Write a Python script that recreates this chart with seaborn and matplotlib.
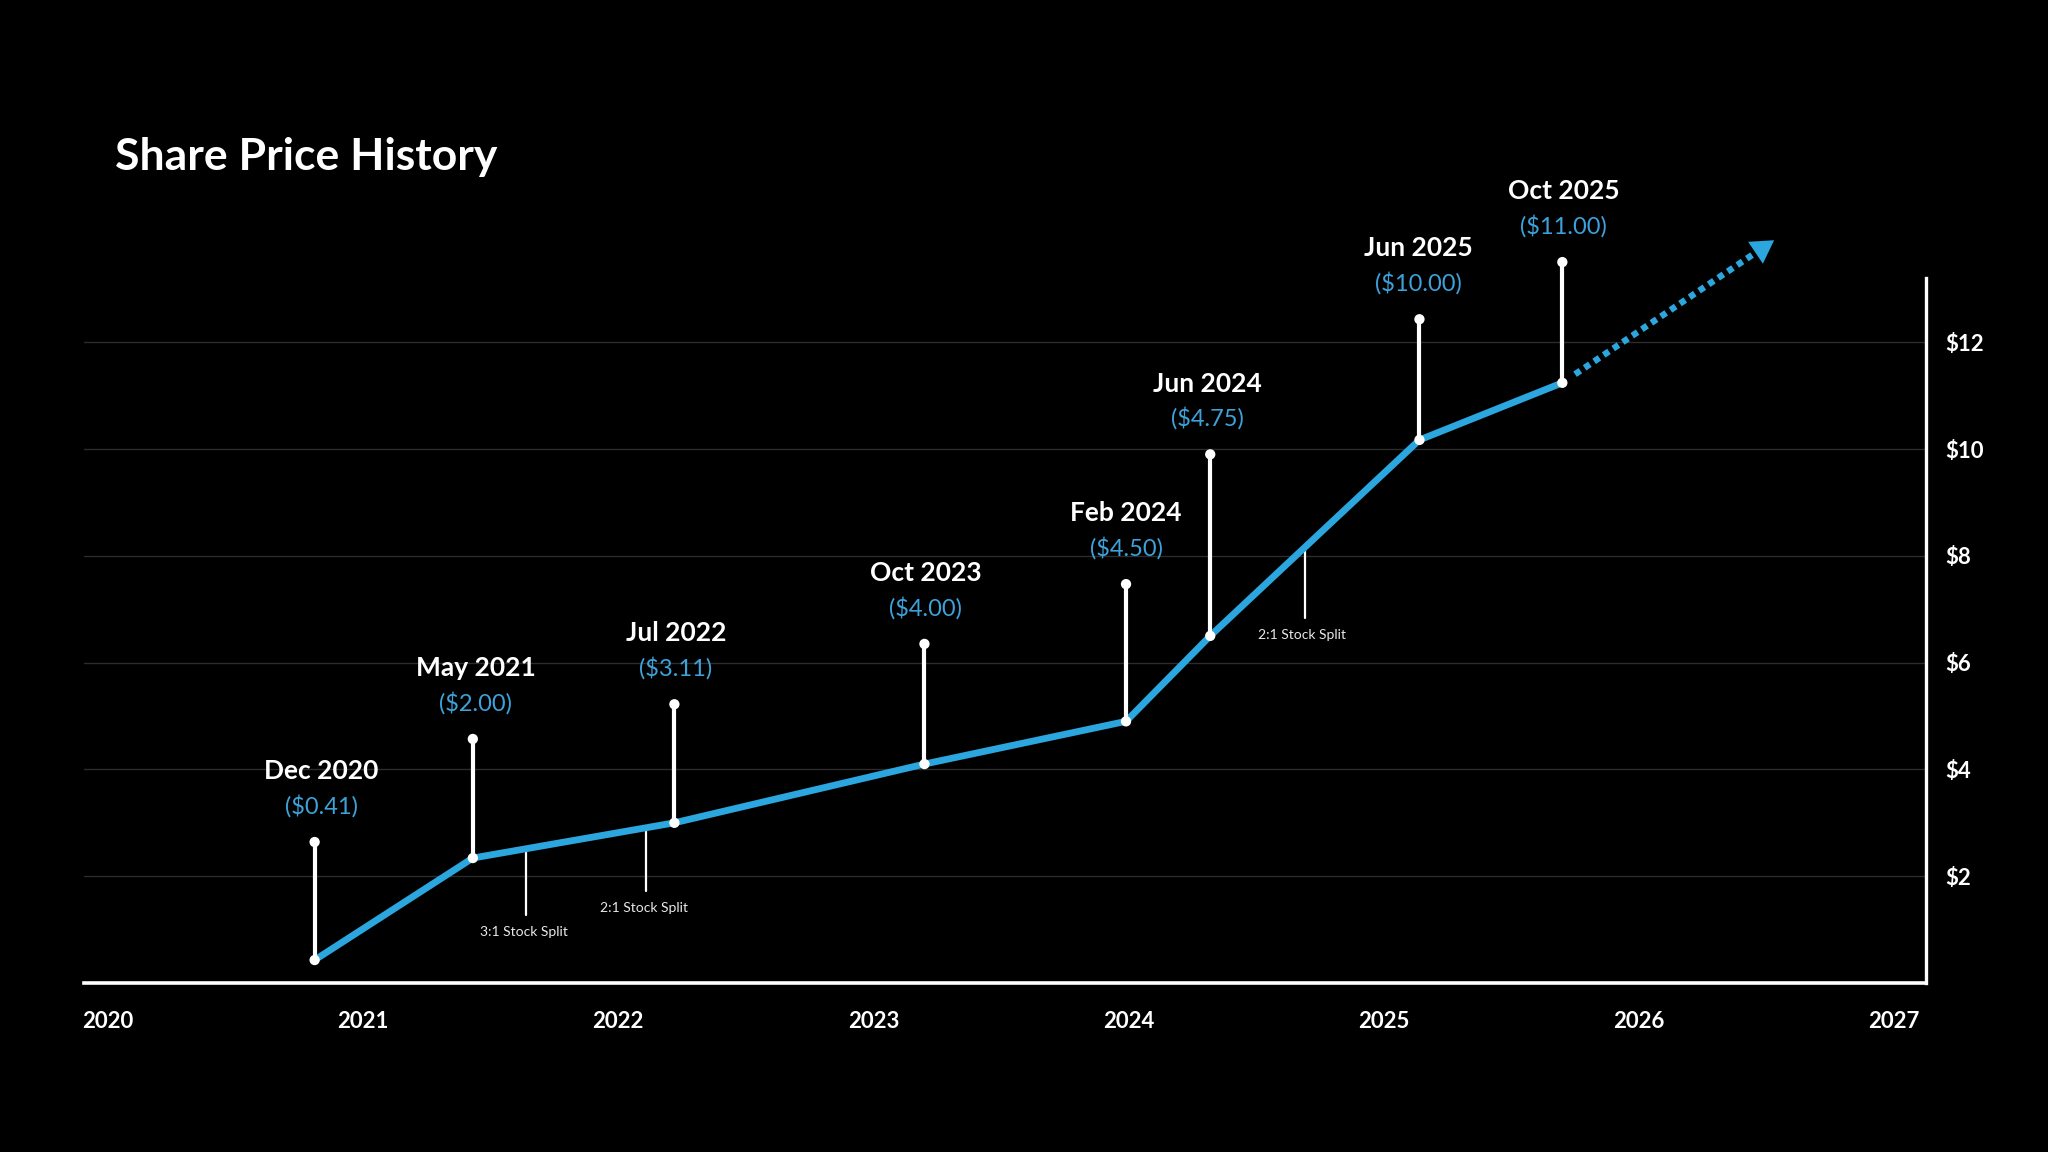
import numpy as np
import matplotlib
matplotlib.use("Agg")
import matplotlib.pyplot as plt
import seaborn as sns

# Milestones
dates = ["Dec 2020", "May 2021", "Jul 2022", "Oct 2023", "Feb 2024", "Jun 2024", "Jun 2025", "Oct 2025"]
prices = [0.41, 2.00, 3.11, 4.00, 4.50, 4.75, 10.00, 11.00]
# where each point sits on the chart (year position, plotted level)
x_pos = [2020.81, 2021.43, 2022.22, 2023.20, 2023.99, 2024.32, 2025.14, 2025.70]
line_y = [0.43, 2.34, 3.00, 4.10, 4.90, 6.50, 10.17, 11.24]
# top of each callout stem
stem_top = [2.64, 4.57, 5.22, 6.35, 7.47, 9.90, 12.43, 13.50]
# small horizontal nudge of the text above each stem (points)
label_dx = [5, 2, 1, 1, 0, -2, -1, 1]

# Stock splits
split_x = [2021.64, 2022.11, 2024.69]
split_bottom = [1.27, 1.72, 6.83]
split_labels = ["3:1 Stock Split", "2:1 Stock Split", "2:1 Stock Split"]

# Projection arrow end
arrow_end = (2026.53, 13.91)

years = list(range(2020, 2028))
y_ticks = [2, 4, 6, 8, 10, 12]

blue = "#2BA6DE"
label_blue = "#3DA2DA"

sns.set_theme(style="dark", rc={
    "figure.facecolor": "black",
    "axes.facecolor": "black",
    "savefig.facecolor": "black",
})
plt.rcParams["font.family"] = ["Lato", "DejaVu Sans"]

fig = plt.figure(figsize=(20.48, 11.52), dpi=100)
ax = fig.add_axes([0.041, 0.1467, 0.8994, 0.6953])

# grid
for t in y_ticks:
    ax.axhline(t, color="#2c2c2c", lw=1, zorder=0)

# main line
sns.lineplot(x=x_pos, y=line_y, color=blue, lw=4.9, ax=ax, zorder=3,
             solid_capstyle="round", solid_joinstyle="round")

# projection (dotted + head)
x0, y0 = x_pos[-1], line_y[-1]
x1, y1 = arrow_end
ax.plot([x0 + (x1 - x0) * 0.06, x0 + (x1 - x0) * 0.92],
        [y0 + (y1 - y0) * 0.06, y0 + (y1 - y0) * 0.92],
        color=blue, lw=4.6, dashes=(1.0, 0.8), dash_capstyle="butt", zorder=3)
ax.annotate("", xy=(x1, y1), xytext=(x0 + (x1 - x0) * 0.85, y0 + (y1 - y0) * 0.85),
            arrowprops=dict(arrowstyle="-|>,head_length=0.85,head_width=0.5",
                            mutation_scale=19, color=blue, lw=0, shrinkA=0, shrinkB=0),
            zorder=3)

# callout stems
for xs, yb, yt in zip(x_pos, line_y, stem_top):
    ax.plot([xs, xs], [yb, yt], color="white", lw=3, zorder=4, solid_capstyle="butt")
sns.scatterplot(x=x_pos, y=line_y, color="white", s=55, edgecolor="none", ax=ax, zorder=5)
sns.scatterplot(x=x_pos, y=stem_top, color="white", s=55, edgecolor="none", ax=ax, zorder=5)

# labels
for xs, yt, d, p, dx in zip(x_pos, stem_top, dates, prices, label_dx):
    ax.annotate(f"(${p:.2f})", xy=(xs, yt), xytext=(dx, 26), textcoords="offset points",
                ha="center", va="center", color=label_blue, fontsize=17, annotation_clip=False)
    ax.annotate(d, xy=(xs, yt), xytext=(dx, 51), textcoords="offset points",
                ha="center", va="center", color="white", fontsize=19, fontweight="bold",
                annotation_clip=False)

# stock split markers
split_top = np.interp(split_x, x_pos, line_y)
for xs, yt, yb, lab in zip(split_x, split_top, split_bottom, split_labels):
    ax.plot([xs, xs], [yb, yt], color="white", lw=1.6, zorder=2)
    ax.annotate(lab, xy=(xs, yb), xytext=(-2, -12), textcoords="offset points",
                ha="center", va="center", color="#e8e8e8", fontsize=10)

# axes styling
ax.set_xlim(2019.906, 2027.125)
ax.set_ylim(0, 15)
ax.set_xticks(years)
ax.set_xticklabels([str(y) for y in years])
ax.set_yticks(y_ticks)
ax.set_yticklabels([f"${t}" for t in y_ticks])
ax.yaxis.tick_right()
ax.tick_params(axis="x", length=0, pad=20, colors="white", labelsize=16)
ax.tick_params(axis="y", length=0, pad=14, colors="white", labelsize=16)
for lab in ax.get_xticklabels() + ax.get_yticklabels():
    lab.set_fontweight("bold")
ax.grid(False)
ax.set_xlabel("")
ax.set_ylabel("")

for s in ["top", "left"]:
    ax.spines[s].set_visible(False)
ax.spines["bottom"].set_color("white")
ax.spines["bottom"].set_linewidth(2.6)
ax.spines["right"].set_visible(True)
ax.spines["right"].set_color("white")
ax.spines["right"].set_linewidth(2.4)
ax.spines["right"].set_bounds(0, 13.2)

fig.text(115 / 2048, 0.864, "Share Price History", color="white", fontsize=32,
         fontweight="bold", ha="left", va="center")

fig.savefig("out.png", dpi=100, facecolor="black")
